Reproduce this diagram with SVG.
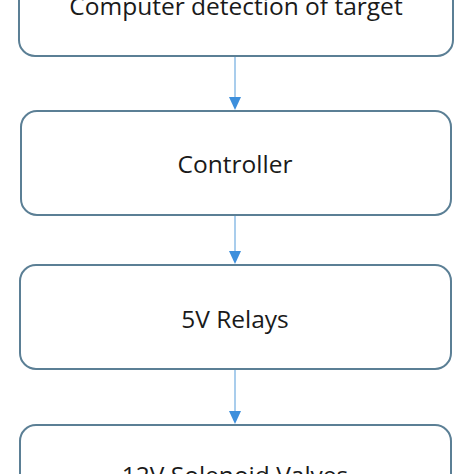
<svg xmlns="http://www.w3.org/2000/svg" width="474" height="474" viewBox="0 0 474 474">
<style>
.box{fill:#ffffff;stroke:#5b7f95;stroke-width:2}
.lbl{font-family:"Open Sans","Liberation Sans",sans-serif;font-size:24.5px;fill:#1a1a1a;text-anchor:middle}
.conn{stroke:#8cbde6;stroke-width:1.5;fill:none}
.head{fill:#3d8fdc}
</style>
<rect width="474" height="474" fill="#ffffff"/>
<g id="connectors">
<line class="conn" x1="235" y1="57" x2="235" y2="99"/>
<path class="head" d="M229,97 L241,97 L235,110 Z"/>
<line class="conn" x1="235" y1="216" x2="235" y2="253"/>
<path class="head" d="M229,251 L241,251 L235,264 Z"/>
<line class="conn" x1="235" y1="370" x2="235" y2="413"/>
<path class="head" d="M229,411 L241,411 L235,424 Z"/>
</g>
<g id="node1">
<rect class="box" x="19" y="-50" width="434" height="106" rx="16"/>
<text class="lbl" x="236" y="15">Computer detection of target</text>
</g>
<g id="node2">
<rect class="box" x="21" y="111" width="430" height="104" rx="16"/>
<text class="lbl" x="235" y="173">Controller</text>
</g>
<g id="node3">
<rect class="box" x="20" y="265" width="431" height="104" rx="16"/>
<text class="lbl" x="235" y="328">5V Relays</text>
</g>
<g id="node4">
<rect class="box" x="20" y="425" width="431" height="104" rx="16"/>
<text class="lbl" x="235" y="484">12V Solenoid Valves</text>
</g>
</svg>
